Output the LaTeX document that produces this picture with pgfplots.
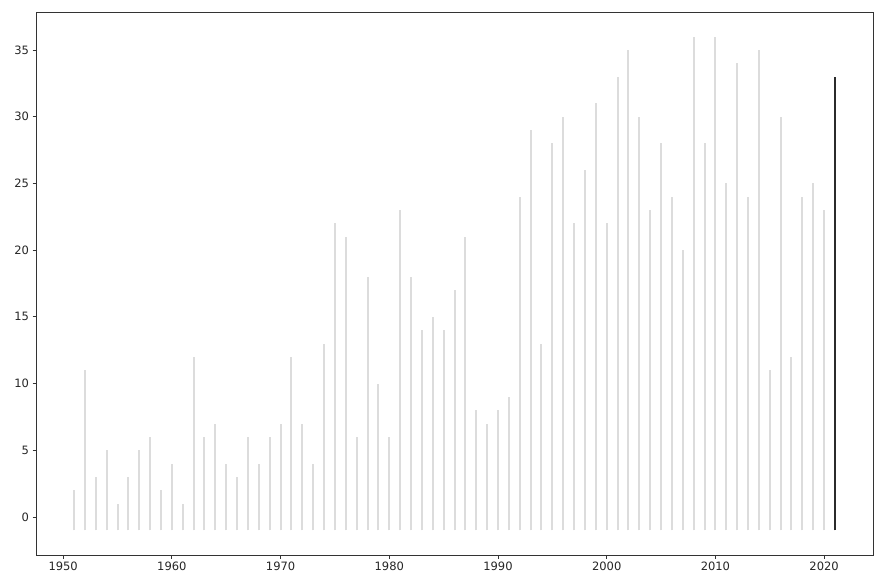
\documentclass[border=0pt]{standalone}
\usepackage{pgfplots}
\pgfplotsset{compat=1.18}
\usepackage{pgfplotstable}
\usepackage{fontspec}
\setmainfont{DejaVu Sans}
\definecolor{lightbar}{HTML}{DCDCDC}
\definecolor{darkbar}{HTML}{2B2B2B}

\pgfplotstableread{
year val
1951 2
1952 11
1953 3
1954 5
1955 1
1956 3
1957 5
1958 6
1959 2
1960 4
1961 1
1962 12
1963 6
1964 7
1965 4
1966 3
1967 6
1968 4
1969 6
1970 7
1971 12
1972 7
1973 4
1974 13
1975 22
1976 21
1977 6
1978 18
1979 10
1980 6
1981 23
1982 18
1983 14
1984 15
1985 14
1986 17
1987 21
1988 8
1989 7
1990 8
1991 9
1992 24
1993 29
1994 13
1995 28
1996 30
1997 22
1998 26
1999 31
2000 22
2001 33
2002 35
2003 30
2004 23
2005 28
2006 24
2007 20
2008 36
2009 28
2010 36
2011 25
2012 34
2013 24
2014 35
2015 11
2016 30
2017 12
2018 24
2019 25
2020 23
}\pastyears

\pgfplotstableread{
year val
2021 33
}\thisyear

\begin{document}
\begin{tikzpicture}
\begin{axis}[
    scale only axis,
    width=837pt, height=543pt,
    xmin=1947.5, xmax=2024.5,
    ymin=-2.85, ymax=37.85,
    xtick={1950,1960,...,2020},
    ytick={0,5,...,35},
    x tick label style={/pgf/number format/1000 sep={}},
    /pgf/number format/assume math mode=true,
    tick label style={font=\fontsize{11.5}{13}\selectfont, text=black!85},
    tick align=outside,
    tick pos=left,
    major tick length=3.5pt,
    every tick/.style={black!80, line width=0.8pt},
    axis line style={black!80, line width=0.8pt},
    no markers,
  ]
  \addplot[lightbar, line width=2pt, -,
    quiver={u=0, v=\thisrow{val}+1}]
    table[x=year, y expr=-1] {\pastyears};
  \addplot[darkbar, line width=2pt, -,
    quiver={u=0, v=\thisrow{val}+1}]
    table[x=year, y expr=-1] {\thisyear};
\end{axis}
\useasboundingbox (current axis.south west) ++(-36pt,-31pt) rectangle ([xshift=17pt,yshift=12pt]current axis.north east);
\end{tikzpicture}
\end{document}
